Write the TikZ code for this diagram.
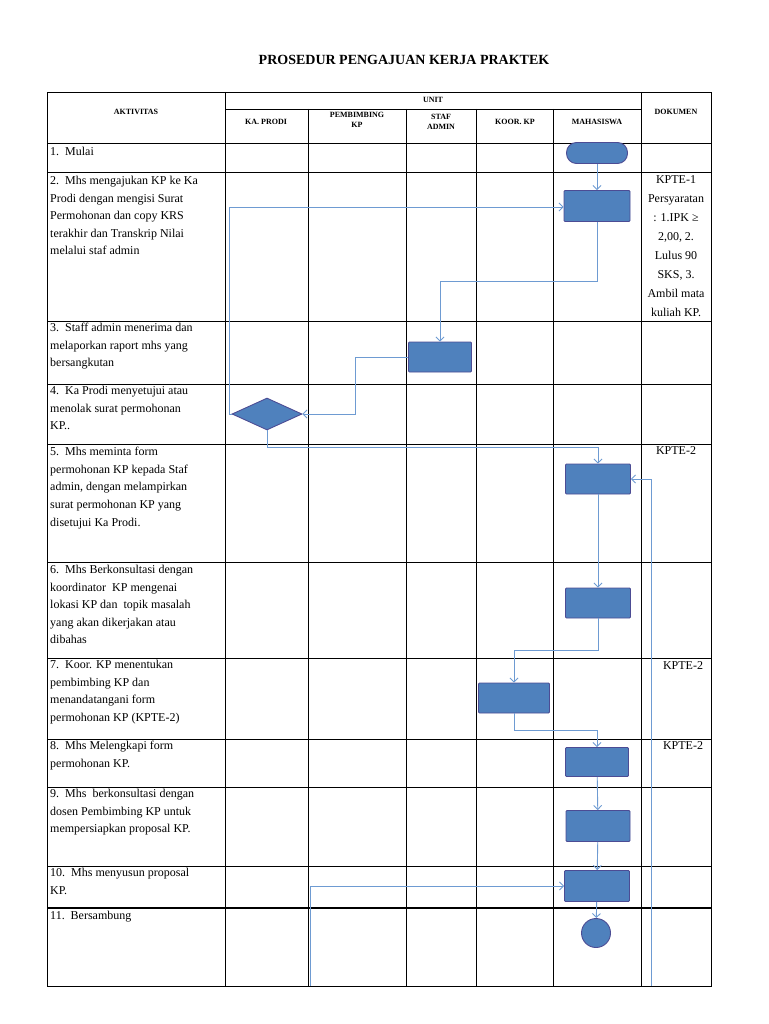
\documentclass[tikz,border=0pt]{standalone}
\usepackage{fontspec}
\setmainfont{Liberation Serif}
\usetikzlibrary{arrows.meta,shapes.geometric}
\begin{document}
\begin{tikzpicture}[x=1pt,y=-1pt,
  grid/.style={line width=0.8pt,black},
  fbox/.style={draw=blue!40!black!70!white,fill={rgb,255:red,79;green,129;blue,189},line width=0.9pt,rounded corners=1pt,inner sep=0pt},
  conn/.style={draw={rgb,255:red,110;green,155;blue,210},line width=0.9pt,-{Straight Barb[length=4pt,width=8pt]}},
  plain/.style={draw={rgb,255:red,110;green,155;blue,210},line width=0.9pt},
  act/.style={anchor=north west,align=left,font=\fontsize{12}{17.6}\selectfont,inner sep=0pt},
  hd/.style={font=\bfseries\fontsize{8}{10}\selectfont,align=center},
  doc/.style={anchor=north,align=center,font=\fontsize{12}{19}\selectfont,inner sep=0pt}]
\useasboundingbox (0,0) rectangle (768,1024);
\node[font=\bfseries\fontsize{14}{16}\selectfont] (title) at (404,60) {PROSEDUR PENGAJUAN KERJA PRAKTEK};
% grid
\draw[grid] (47,92) rectangle (711,986);
\foreach \x in {225,641} \draw[grid] (\x,92) -- (\x,986);
\foreach \x in {308,406,476,553} \draw[grid] (\x,109) -- (\x,986);
\draw[grid] (225,109) -- (641,109);
\foreach \y in {143,172,321,384,444,562,658,739,787,866} \draw[grid] (47,\y) -- (711,\y);
\draw[line width=1.6pt] (47,908) -- (711,908);
% headers
\node[hd] (hA) at (136,112) {AKTIVITAS};
\node[hd] (hU) at (433,100) {UNIT};
\node[hd] (hD) at (676,112) {DOKUMEN};
\node[hd] (h1) at (266,122) {KA. PRODI};
\node[hd] (h2) at (357,120) {PEMBIMBING\\KP};
\node[hd] (h3) at (441,122) {STAF\\ADMIN};
\node[hd] (h4) at (515,122) {KOOR. KP};
\node[hd] (h5) at (597,122) {MAHASISWA};
% activities
\node[act] (a1) at (50,147) {1.\ \ Mulai};
\node[act] (a2) at (50,176) {2.\ \ Mhs mengajukan KP ke Ka\\Prodi dengan mengisi Surat\\Permohonan dan copy KRS\\terakhir dan Transkrip Nilai\\melalui staf admin};
\node[act] (a3) at (50,323) {3.\ \ Staff admin menerima dan\\melaporkan raport mhs yang\\bersangkutan};
\node[act] (a4) at (50,386) {4.\ \ Ka Prodi menyetujui atau\\menolak surat permohonan\\KP..};
\node[act] (a5) at (50,447) {5.\ \ Mhs meminta form\\permohonan KP kepada Staf\\admin, dengan melampirkan\\surat permohonan KP yang\\disetujui Ka Prodi.};
\node[act] (a6) at (50,565) {6.\ \ Mhs Berkonsultasi dengan\\koordinator\ \ KP mengenai\\lokasi KP dan\ \ topik masalah\\yang akan dikerjakan atau\\dibahas};
\node[act] (a7) at (50,660) {7.\ \ Koor. KP menentukan\\pembimbing KP dan\\menandatangani form\\permohonan KP (KPTE-2)};
\node[act] (a8) at (50,741) {8.\ \ Mhs Melengkapi form\\permohonan KP.};
\node[act] (a9) at (50,789) {9.\ \ Mhs\ \ berkonsultasi dengan\\dosen Pembimbing KP untuk\\mempersiapkan proposal KP.};
\node[act] (a10) at (50,868) {10.\ \ Mhs menyusun proposal\\KP.};
\node[act] (a11) at (50,911) {11.\ \ Bersambung};
% documents
\node[doc] (d2) at (676,175) {KPTE-1\\Persyaratan\\: 1.IPK ≥\\2,00, 2.\\Lulus 90\\SKS, 3.\\Ambil mata\\kuliah KP.};
\node[doc] (d5) at (676,446) {KPTE-2};
\node[doc] (d7) at (683,661) {KPTE-2};
\node[doc] (d8) at (683,741) {KPTE-2};
% shapes
\node[fbox,rounded corners=10pt,minimum width=61pt,minimum height=21pt] (s1) at (597,153) {};
\node[fbox,minimum width=66pt,minimum height=31pt] (b2) at (597,206) {};
\node[fbox,minimum width=63pt,minimum height=30pt] (b3) at (440,357) {};
\node[fbox,diamond,aspect=2.2,minimum width=70pt,minimum height=32pt,rounded corners=0pt] (dm) at (267,414) {};
\node[fbox,minimum width=65pt,minimum height=30pt] (b5) at (598,479) {};
\node[fbox,minimum width=65pt,minimum height=30pt] (b6) at (598,603) {};
\node[fbox,minimum width=71pt,minimum height=30pt] (b7) at (514,698) {};
\node[fbox,minimum width=63pt,minimum height=29pt] (b8) at (597,762) {};
\node[fbox,minimum width=64pt,minimum height=31pt] (b9) at (598,826) {};
\node[fbox,minimum width=65pt,minimum height=31pt] (b10) at (597,886) {};
\node[fbox,circle,minimum size=29pt] (ce) at (596,933) {};
\coordinate (e1) at (310,986);
\coordinate (e2) at (651,986);
% connectors
\draw[conn] (s1) -- (b2);
\draw[conn] (b2.south) |- (440,281) -- (b3.north);
\draw[conn] (b3.west) -| (355,414) -- (dm.east);
\draw[conn] (dm.west) -| (229,207) -- (b2.west |- 0,207);
\draw[conn] (dm.south) |- (598,447) -- (b5.north);
\draw[conn] (b5) -- (b6);
\draw[conn] (b6.south) |- (514,650) -- (b7.north);
\draw[conn] (b7.south) |- (597,730) -- (b8.north);
\draw[conn] (b8) -- (b9);
\draw[conn] (b9) -- (b10);
\draw[conn] (b10) -- (ce);
\draw[conn] (e1) |- (b10.west);
\draw[conn] (e2) |- (b5.east);
\end{tikzpicture}
\end{document}
